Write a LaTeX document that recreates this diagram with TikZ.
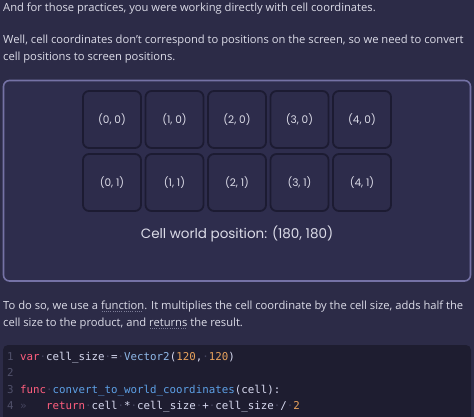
\documentclass[tikz,border=0pt]{standalone}
\usepackage{fontspec}
\setmainfont{Open Sans}
\newfontfamily\cellfont{Poppins}
\setmonofont{DejaVu Sans Mono}
\definecolor{bg}{HTML}{2C2B47}
\definecolor{panelfill}{HTML}{2E2D4D}
\definecolor{panelborder}{HTML}{7572A6}
\definecolor{cellfill}{HTML}{2D2C4B}
\definecolor{cellborder}{HTML}{1C1B32}
\definecolor{bodytext}{HTML}{DCDCE8}
\definecolor{codebg}{HTML}{1E1D30}
\definecolor{lnum}{HTML}{50506A}
\definecolor{kw}{HTML}{FF5E7E}
\definecolor{fn}{HTML}{5DA0E6}
\definecolor{typ}{HTML}{8FB8E8}
\definecolor{numc}{HTML}{E8A25C}
\definecolor{codetext}{HTML}{D8DAF0}
\definecolor{ws}{HTML}{44445E}
\definecolor{ulc}{HTML}{7C7C96}
\tikzset{
  bodyline/.style={anchor=base west, inner sep=0pt, text=bodytext, font=\fontsize{11.2}{13}\selectfont},
  cellbox/.style={draw=cellborder, line width=1.8pt, fill=cellfill, rounded corners=6pt, minimum width=58pt, minimum height=57pt, inner sep=0pt, text=bodytext, font=\cellfont\fontsize{10.5}{12}\selectfont},
  codeline/.style={anchor=base west, inner sep=0pt, text=codetext, font=\ttfamily\fontsize{10.8}{12}\selectfont},
}
\newcommand{\W}{\textcolor{ws}{·}}
\newsavebox{\ulbox}
\newcommand{\dul}[1]{\sbox{\ulbox}{#1}\rlap{\textcolor{ulc}{\raisebox{-2.4pt}{\hbox to \wd\ulbox{\leaders\hbox to 2.2pt{\hss\rule{1pt}{0.6pt}\hss}\hfill}}}}\usebox{\ulbox}}
\begin{document}
\begin{tikzpicture}[x=1pt,y=-1pt]
\fill[bg] (0,0) rectangle (474,417);
\useasboundingbox (0,0) rectangle (474,417);
% top text
\node[bodyline] (t1) at (3,12) {And for those practices, you were working directly with cell coordinates.};
\node[bodyline] (t2) at (3,44) {Well, cell coordinates don't correspond to positions on the screen, so we need to convert};
\node[bodyline] (t3) at (3,61) {cell positions to screen positions.};
% panel
\draw[draw=panelborder, line width=1.6pt, fill=panelfill, rounded corners=6pt] (3.5,80.5) rectangle (470.5,281);
% cells
\foreach \c in {0,...,4}{
  \foreach \r in {0,1}{
    \node[cellbox] (cell\c\r) at ({112+62.5*\c},{119.5+63*\r}) {(\c, \r)};
  }
}
\node[anchor=center, inner sep=0pt, text=bodytext, font=\cellfont\fontsize{13.5}{15}\selectfont] (worldpos) at (237,234) {Cell world position: (180, 180)};
% para
\node[bodyline] (p1) at (3,309) {To do so, we use a \dul{function}. It multiplies the cell coordinate by the cell size, adds half the};
\node[bodyline] (p2) at (3,326) {cell size to the product, and \dul{returns} the result.};
% code block
\fill[codebg, rounded corners=5pt] (3,345) rectangle (471,430);
\node[codeline] (c1) at (7,360) {\textcolor{lnum}{1} \textcolor{kw}{var}\W cell\_size\W=\W\textcolor{typ}{Vector2}(\textcolor{numc}{120},\W\textcolor{numc}{120})};
\node[codeline] (c2) at (7,376.5) {\textcolor{lnum}{2}};
\node[codeline] (c3) at (7,393) {\textcolor{lnum}{3} \textcolor{kw}{func}\W\textcolor{fn}{convert\_to\_world\_coordinates}(cell):};
\node[codeline] (c4) at (7,409.5) {\textcolor{lnum}{4} \textcolor{ws}{»}\ \ \ \textcolor{kw}{return}\W cell\W*\W cell\_size\W+\W cell\_size\W/\W\textcolor{numc}{2}};
\end{tikzpicture}
\end{document}
